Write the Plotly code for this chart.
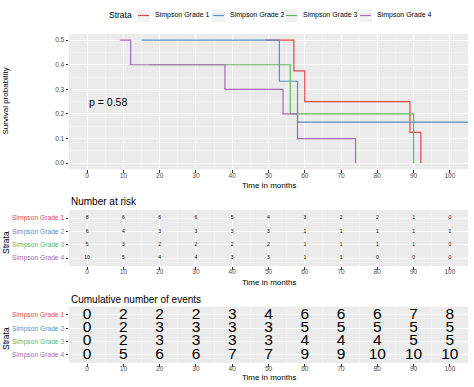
import plotly.graph_objects as go

W, H = 474, 387
FONT = "Liberation Sans, Arial, sans-serif"

strata = ["Simpson Grade 1", "Simpson Grade 2", "Simpson Grade 3", "Simpson Grade 4"]
colors = ["#E4474B", "#5B8FC2", "#62B762", "#A46CB2"]

# Kaplan-Meier steps (visible part, y-axis limited to 0-0.5)
g1_time = [49, 57, 60, 89, 92]
g1_surv = [0.5, 0.375, 0.25, 0.125, 0.0]
g2_time = [15, 53, 58, 105]
g2_surv = [0.5, 0.333, 0.167, 0.167]
g3_time = [17, 56, 90]
g3_surv = [0.4, 0.2, 0.0]
g4_time = [9, 12, 38, 54, 58, 74]
g4_surv = [0.5, 0.4, 0.3, 0.2, 0.1, 0.0]

table_times = [0, 10, 20, 30, 40, 50, 60, 70, 80, 90, 100]
risk_g1 = [8, 6, 6, 6, 5, 4, 3, 2, 2, 1, 0]
risk_g2 = [6, 4, 3, 3, 3, 3, 1, 1, 1, 1, 1]
risk_g3 = [5, 3, 2, 2, 2, 2, 1, 1, 1, 1, 0]
risk_g4 = [10, 5, 4, 4, 3, 3, 1, 1, 0, 0, 0]

events_g1 = [0, 2, 2, 2, 3, 4, 6, 6, 6, 7, 8]
events_g2 = [0, 2, 3, 3, 3, 3, 5, 5, 5, 5, 5]
events_g3 = [0, 2, 3, 3, 3, 3, 4, 4, 4, 5, 5]
events_g4 = [0, 5, 6, 6, 7, 7, 9, 9, 10, 10, 10]

p_value_text = "p = 0.58"
x_ticks = [0, 10, 20, 30, 40, 50, 60, 70, 80, 90, 100]
y_ticks = [0.0, 0.1, 0.2, 0.3, 0.4, 0.5]


def px(x):
    return x / W


def py(y):
    return 1 - y / H


fig = go.Figure()

curves = [(g1_time, g1_surv), (g2_time, g2_surv), (g3_time, g3_surv), (g4_time, g4_surv)]
for (t, s), name, c in zip(curves, strata, colors):
    fig.add_trace(go.Scatter(x=t, y=s, mode="lines", line=dict(color=c, width=1.2, shape="hv"),
                             name=name, showlegend=False, xaxis="x", yaxis="y", hoverinfo="skip"))

risks = [risk_g1, risk_g2, risk_g3, risk_g4]
events = [events_g1, events_g2, events_g3, events_g4]
for i in range(4):
    fig.add_trace(go.Scatter(x=table_times, y=[i + 1] * len(table_times), mode="text",
                             text=[str(v) for v in risks[i]],
                             textfont=dict(family=FONT, size=5, color="black"),
                             showlegend=False, xaxis="x2", yaxis="y2", hoverinfo="skip"))
    fig.add_trace(go.Scatter(x=table_times, y=[i + 1] * len(table_times), mode="text",
                             text=[str(v) for v in events[i]],
                             textfont=dict(family=FONT, size=15.5, color="black"),
                             showlegend=False, xaxis="x3", yaxis="y3", hoverinfo="skip"))

xdom = [px(69), px(468)]
common_x = dict(domain=xdom, range=[-5, 105], tickmode="array", tickvals=x_ticks,
                ticktext=[str(v) for v in x_ticks],
                ticks="outside", ticklen=2.5, tickwidth=1, tickcolor="#333333",
                tickfont=dict(family=FONT, size=6.5, color="#4D4D4D"), ticklabelstandoff=-3,
                showgrid=True, gridcolor="white", gridwidth=1,
                minor=dict(tickvals=[v + 5 for v in x_ticks[:-1]], showgrid=True,
                           gridcolor="#F5F5F5", gridwidth=0.6, ticks=""),
                zeroline=False, showline=False, fixedrange=True, automargin=False)

grade_ticktext = ["<span style='color:%s'>%s</span>" % (c, s) for c, s in zip(colors, strata)]
common_ytab = dict(range=[4.6, 0.4], tickmode="array", tickvals=[1, 2, 3, 4], ticktext=grade_ticktext,
                   ticks="outside", ticklen=2.5, tickwidth=1, tickcolor="#333333",
                   tickfont=dict(family=FONT, size=6.7),
                   showgrid=True, gridcolor="white", gridwidth=1, zeroline=False, showline=False,
                   automargin=False, fixedrange=True)

fig.update_layout(
    width=W, height=H, margin=dict(l=0, r=0, t=0, b=0),
    paper_bgcolor="white", plot_bgcolor="#EBEBEB",
    font=dict(family=FONT),
    showlegend=False,
    xaxis=dict(anchor="y", **common_x),
    yaxis=dict(domain=[py(169.3), py(34)], range=[-0.025, 0.525], tickmode="array",
               tickvals=y_ticks, ticktext=["%.1f" % v for v in y_ticks],
               ticks="outside", ticklen=2.5, tickwidth=1, tickcolor="#333333",
               tickfont=dict(family=FONT, size=6.5, color="#4D4D4D"),
               showgrid=True, gridcolor="white", gridwidth=1,
               minor=dict(tickvals=[0.05, 0.15, 0.25, 0.35, 0.45], showgrid=True,
                          gridcolor="#F5F5F5", gridwidth=0.6, ticks=""),
               zeroline=False, showline=False, anchor="x", automargin=False, fixedrange=True),
    xaxis2=dict(anchor="y2", **common_x),
    yaxis2=dict(domain=[py(266), py(210)], anchor="x2", **common_ytab),
    xaxis3=dict(anchor="y3", **common_x),
    yaxis3=dict(domain=[py(363), py(306.7)], anchor="x3", **common_ytab),
)

ann = []
shapes = []
# legend
ann.append(dict(text="Strata", x=px(107), y=py(15.5), xref="paper", yref="paper", xanchor="left",
                yanchor="middle", showarrow=False, font=dict(family=FONT, size=8.5, color="black")))
key_x = [137, 212, 285, 359]
for kx, name, c in zip(key_x, strata, colors):
    shapes.append(dict(type="rect", xref="paper", yref="paper", x0=px(kx), x1=px(kx + 13),
                       y0=py(22), y1=py(9), fillcolor="#F2F2F2", line=dict(width=0), layer="below"))
    shapes.append(dict(type="line", xref="paper", yref="paper", x0=px(kx + 1), x1=px(kx + 12),
                       y0=py(15.5), y1=py(15.5), line=dict(color=c, width=1.2)))
    ann.append(dict(text=name, x=px(kx + 16), y=py(15.5), xref="paper", yref="paper", xanchor="left",
                    yanchor="middle", showarrow=False, font=dict(family=FONT, size=7, color="black")))

ann.append(dict(text=p_value_text, x=0, y=0.25, xref="x", yref="y", xanchor="left", yanchor="middle",
                showarrow=False, font=dict(family=FONT, size=10.5, color="black")))
ann.append(dict(text="Survival probability", x=px(5), y=py(101.5), xref="paper", yref="paper",
                textangle=-90, showarrow=False, xanchor="center", yanchor="middle",
                font=dict(family=FONT, size=8, color="black")))
for yy in [185, 282, 377.5]:
    ann.append(dict(text="Time in months", x=px(268.5), y=py(yy), xref="paper", yref="paper",
                    showarrow=False, xanchor="center", yanchor="middle",
                    font=dict(family=FONT, size=8, color="black")))
ann.append(dict(text="Number at risk", x=px(68.5), y=py(201.5), xref="paper", yref="paper",
                showarrow=False, xanchor="left", yanchor="middle",
                font=dict(family=FONT, size=10, color="black")))
ann.append(dict(text="Cumulative number of events", x=px(68.5), y=py(299), xref="paper", yref="paper",
                showarrow=False, xanchor="left", yanchor="middle",
                font=dict(family=FONT, size=10, color="black")))
for yy in [243, 339]:
    ann.append(dict(text="Strata", x=px(6), y=py(yy), xref="paper", yref="paper", textangle=-90,
                    showarrow=False, xanchor="center", yanchor="middle",
                    font=dict(family=FONT, size=8.5, color="black")))

fig.update_layout(annotations=ann, shapes=shapes)
fig.write_html("out.html", config={"displayModeBar": False, "staticPlot": True},
               post_script="document.body.style.margin='0';document.body.style.overflow='hidden';")
